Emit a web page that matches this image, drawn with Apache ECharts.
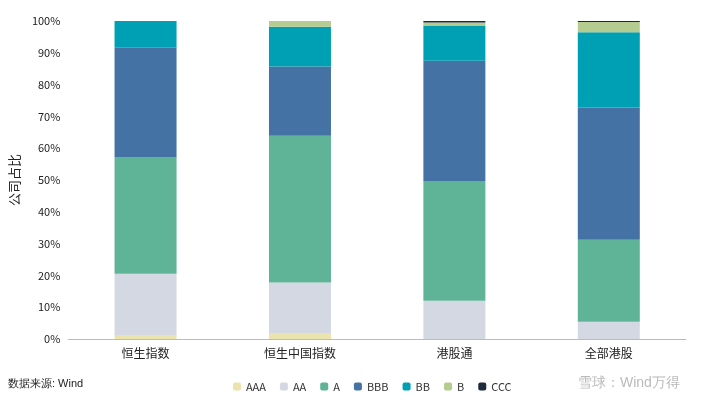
<!DOCTYPE html><html><head><meta charset="utf-8"><script src="https://cdn.jsdelivr.net/npm/echarts@6/dist/echarts.min.js"></script></head><body style="margin:0"><div id="c" style="width:706px;height:409px"></div><script>
const categories=['恒生指数','恒生中国指数','港股通','全部港股'];
const AAA=[1.0,1.9,0,0];
const AA=[19.5,15.9,12.0,5.4];
const A=[36.6,46.1,37.7,25.8];
const BBB=[34.5,21.8,37.8,41.6];
const BB=[8.4,12.5,11.1,23.7];
const B=[0,1.8,0.9,3.2];
const CCC=[0,0,0.5,0.3];
const names=['AAA','AA','A','BBB','BB','B','CCC'];
const data=[AAA,AA,A,BBB,BB,B,CCC];
const colors=['#ece4ae','#d3d8e3','#5fb396','#4472a4','#00a0b4','#b5cc90','#1f2a3c'];
const ch=echarts.init(document.getElementById('c'));
ch.setOption({
 textStyle:{fontFamily:'Noto Sans CJK SC'},
 grid:{left:66,right:20,top:21,bottom:70},
 legend:{bottom:12,left:228,itemWidth:8,itemHeight:8,itemGap:14,textStyle:{fontSize:11,color:'#333'},data:names},
 graphic:[{type:'text',left:8,top:378,style:{text:'数据来源: Wind',fontSize:11,fill:'#222'}},
 {type:'text',left:578,top:376,style:{text:'雪球：Wind万得',fontSize:14,fill:'#bbb'}}],
 xAxis:{type:'category',data:categories,axisTick:{show:false},axisLine:{lineStyle:{color:'#bbb'}},axisLabel:{color:'#222',fontSize:12}},
 yAxis:{type:'value',min:0,max:100,interval:10,name:'公司占比',nameLocation:'middle',nameGap:44,nameTextStyle:{fontSize:13,color:'#222'},axisLabel:{formatter:'{value}%',color:'#222',fontSize:11},splitLine:{show:false}},
 series:data.map((d,i)=>({name:names[i],type:'bar',stack:'s',barWidth:62,data:d,itemStyle:{color:colors[i]}}))
});
</script></body></html>
